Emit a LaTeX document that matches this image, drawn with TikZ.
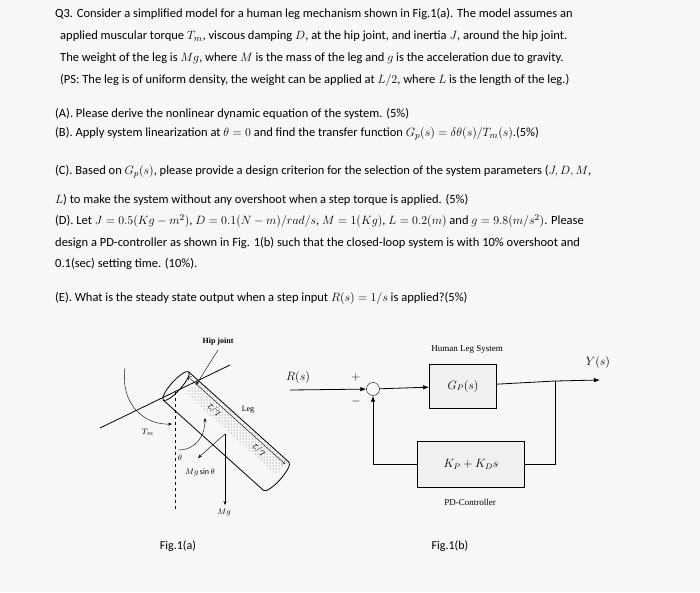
\documentclass[tikz,border=0pt]{standalone}
\usepackage{fontspec}
\setmainfont{Carlito}
\newfontfamily\tnr{Liberation Serif}
\usetikzlibrary{arrows.meta,patterns}
\begin{document}
\begin{tikzpicture}[x=1pt,y=-1pt,
 txt/.style={anchor=west,inner sep=0,font=\fontsize{12.5}{14}\selectfont},
 blk/.style={draw,thick,fill=gray!12,inner sep=0},
 sm/.style={font=\tnr\fontsize{8}{9}\selectfont,inner sep=1pt},
 arr/.style={-{Latex[length=6pt]}},
 sarr/.style={-{Stealth[length=4pt]}}]
\fill[gray!6] (0,0) rectangle (700,592);
\useasboundingbox (0,0) rectangle (700,592);
\node[txt] (t1) at (55,14) {Q3. Consider a simplified model for a human leg mechanism shown in Fig.1(a). The model assumes an};
\node[txt] (t2) at (60,36) {applied muscular torque $T_m$, viscous damping $D$, at the hip joint, and inertia $J$, around the hip joint.};
\node[txt] (t3) at (60,58) {The weight of the leg is $Mg$, where $M$ is the mass of the leg and $g$ is the acceleration due to gravity.};
\node[txt] (t4) at (60,80) {(PS: The leg is of uniform density, the weight can be applied at $L/2$, where $L$ is the length of the leg.)};
\node[txt] (t5) at (55,114) {(A). Please derive the nonlinear dynamic equation of the system. (5\%)};
\node[txt] (t6) at (55,134) {(B). Apply system linearization at $\theta=0$ and find the transfer function $G_p(s)=\delta\theta(s)/T_m(s)$.(5\%)};
\node[txt] (t7) at (55,172) {(C). Based on $G_p(s)$, please provide a design criterion for the selection of the system parameters ($J,D,M$,};
\node[txt] (t8) at (55,200) {$L$) to make the system without any overshoot when a step torque is applied. (5\%)};
\node[txt] (t9) at (55,221) {(D). Let $J=0.5(Kg-m^2)$, $D=0.1(N-m)/rad/s$, $M=1(Kg)$, $L=0.2(m)$ and $g=9.8(m/s^2)$. Please};
\node[txt] (t10) at (55,243) {design a PD-controller as shown in Fig. 1(b) such that the closed-loop system is with 10\% overshoot and};
\node[txt] (t11) at (55,264) {0.1(sec) setting time. (10\%).};
\node[txt] (t12) at (55,298) {(E). What is the steady state output when a step input $R(s)=1/s$ is applied?(5\%)};
% Fig 1(a)
\begin{scope}[shift={(176,386)},x={(0.743pt,-0.669pt)},y={(0.669pt,0.743pt)}]
 \draw[thick,fill=gray!6] (0,-19) -- (135,-19) arc(-90:90:5 and 19) -- (0,19);
 \fill[pattern=dots,pattern color=gray!70!black] (12,1) -- (134,1) -- (134,18) -- (12,18) -- cycle;
 \draw[thick,fill=gray!6] (0,0) ellipse (5 and 19);
 \node[sm,rotate=138] (l1) at (45,8) {$L/2$};
 \node[sm,rotate=138] (l2) at (105,8) {$L/2$};
 \draw[<->] (3,15) -- (133,15);
\end{scope}
\coordinate (hip) at (196,385);
\coordinate (cm) at (225,434);
\draw[thick] (100,428) -- (230,365);
\draw[dashed] (175,392) -- (175,510);
\draw[sarr] (125,368) .. controls (120,405) and (145,425) .. (172,424);
\draw[sarr] (178,450) .. controls (196,450) and (205,436) .. (205,418);
\draw[sarr] (cm) -- (225,505);
\draw[sarr] (cm) -- (198,458);
\node[sm,font=\tnr\bfseries\fontsize{8}{9}\selectfont] (hj) at (218,342) {Hip joint};
\draw[sarr] (218,350) -- (hip);
\node[sm] (leg) at (248,410) {Leg};
\node[sm] (tm) at (148,432) {$T_m$};
\node[sm] (th) at (180,458) {$\theta$};
\node[sm] (mgs) at (200,472) {$Mg\sin\theta$};
\node[sm] (mg) at (224,513) {$Mg$};
\node[font=\fontsize{12}{14}\selectfont] (f1) at (178,546) {Fig.1(a)};
% Fig 1(b)
\node[blk,minimum width=67,minimum height=44] (gp) at (463,386) {\large $G_P(s)$};
\node[blk,minimum width=107,minimum height=46] (pd) at (471,464) {\large $K_P+K_D s$};
\node[draw,circle,minimum size=13,inner sep=0] (sum) at (373,389) {};
\coordinate (in) at (290,390);
\coordinate (br) at (555,381);
\coordinate (out) at (600,380);
\node[font=\tnr\large] (r) at (298,377) {$R(s)$};
\node[font=\tnr\large] (y) at (598,362) {$Y(s)$};
\node[sm,font=\tnr\fontsize{9}{10}\selectfont] (hls) at (467,349) {Human Leg System};
\node[sm,font=\tnr\fontsize{9}{10}\selectfont] (pdc) at (470,502) {PD-Controller};
\node (plus) at (356,377) {\large $+$};
\node (minus) at (356,401) {\large $-$};
\draw[thick,arr] (in) -- (sum);
\draw[thick,arr] (sum) -- (gp);
\draw[thick] (gp) -- (br);
\draw[thick,arr] (br) -- (out);
\draw[thick] (br) |- (pd);
\draw[thick,arr] (pd) -| (sum);
\node[font=\fontsize{12}{14}\selectfont] (f2) at (450,546) {Fig.1(b)};
\end{tikzpicture}
\end{document}
